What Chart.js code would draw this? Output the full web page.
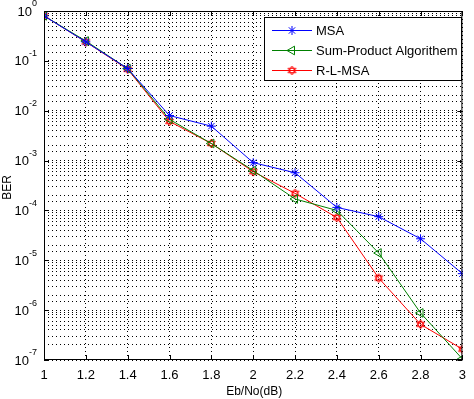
<!DOCTYPE html>
<html>
<head>
<meta charset="utf-8">
<script src="https://cdn.jsdelivr.net/npm/chart.js@4.4.1/dist/chart.umd.min.js"></script>
<style>
    html, body { margin: 0; padding: 0; background: #fff; }
    #wrap { width: 474px; height: 399px; }
</style>
</head>
<body>
<div id="wrap"><canvas id="berChart" width="474" height="399"></canvas></div>
<script>
// Data
const ebno = [1, 1.2, 1.4, 1.6, 1.8, 2.0, 2.2, 2.4, 2.6, 2.8, 3.0];
const msa = [0.8, 0.24, 0.07, 0.0080, 0.0049, 9.1e-4, 5.7e-4, 1.15e-4, 7.5e-5, 2.7e-5, 5.4e-6];
const sumProduct = [0.8, 0.25, 0.07, 0.0067, 0.0022, 6.3e-4, 1.7e-4, 1.0e-4, 1.4e-5, 8.8e-7, 1.05e-7];
const rlMsa = [0.8, 0.24, 0.068, 0.0061, 0.0022, 6.0e-4, 2.2e-4, 7.2e-5, 4.4e-6, 5.2e-7, 1.65e-7];
const seriesNames = ['MSA', 'Sum-Product Algorithem', 'R-L-MSA'];
const yDecades = [0, -1, -2, -3, -4, -5, -6, -7];
const xTicks = [1, 1.2, 1.4, 1.6, 1.8, 2, 2.2, 2.4, 2.6, 2.8, 3];

const FONT = '"Liberation Sans", Arial, Helvetica, sans-serif';

// hexagram marker for R-L-MSA
function hexagram(color) {
    const c = document.createElement('canvas');
    c.width = 11; c.height = 11;
    const g = c.getContext('2d');
    g.strokeStyle = color;
    g.lineWidth = 1;
    const r = 4.5, cx = 5.5, cy = 5.5;
    [ -Math.PI / 2, Math.PI / 2 ].forEach(a0 => {
        g.beginPath();
        for (let i = 0; i < 3; i++) {
            const a = a0 + i * 2 * Math.PI / 3;
            const px = cx + r * Math.cos(a), py = cy + r * Math.sin(a);
            if (i === 0) g.moveTo(px, py); else g.lineTo(px, py);
        }
        g.closePath();
        g.stroke();
    });
    return c;
}

function toPoints(arr) {
    return ebno.map((x, i) => ({ x: x, y: arr[i] }));
}

// box, inward tick marks, y labels with exponents, axis titles, legend
const matlabAxes = {
    id: 'matlabAxes',
    afterDraw(chart) {
        const ctx = chart.ctx;
        const a = chart.chartArea;
        const xs = chart.scales.x, ys = chart.scales.y;
        ctx.save();
        ctx.strokeStyle = '#000';
        ctx.lineWidth = 1;
        ctx.strokeRect(a.left + 0.5, a.top + 0.5, a.right - a.left - 1, a.bottom - a.top - 1);

        // tick marks
        ctx.beginPath();
        xTicks.forEach(v => {
            const px = Math.round(xs.getPixelForValue(v)) + 0.5;
            ctx.moveTo(px, a.bottom); ctx.lineTo(px, a.bottom - 5);
            ctx.moveTo(px, a.top); ctx.lineTo(px, a.top + 5);
        });
        yDecades.forEach(e => {
            const py = Math.round(ys.getPixelForValue(Math.pow(10, e))) + 0.5;
            ctx.moveTo(a.left, py); ctx.lineTo(a.left + 5, py);
            ctx.moveTo(a.right, py); ctx.lineTo(a.right - 5, py);
        });
        ctx.stroke();

        // y tick labels 10^n
        ctx.fillStyle = '#000';
        ctx.textBaseline = 'middle';
        ctx.textAlign = 'right';
        yDecades.forEach(e => {
            const py = ys.getPixelForValue(Math.pow(10, e));
            const expTxt = String(e);
            ctx.font = '9px ' + FONT;
            const ew = ctx.measureText(expTxt).width;
            const right = a.left - 7;
            ctx.fillText(expTxt, right, py - 7);
            ctx.font = '13px ' + FONT;
            ctx.fillText('10', right - ew, py + 1);
        });

        // axis titles
        ctx.font = '12px ' + FONT;
        ctx.textAlign = 'center';
        ctx.fillText('Eb/No(dB)', (a.left + a.right) / 2 + 1, 392);
        ctx.save();
        ctx.translate(8, (a.top + a.bottom) / 2 + 2);
        ctx.rotate(-Math.PI / 2);
        ctx.fillText('BER', 0, 0);
        ctx.restore();

        // legend
        const lx = 264, ly = 17, lw = 197, lh = 63;
        ctx.fillStyle = '#fff';
        ctx.fillRect(lx, ly, lw, lh);
        ctx.strokeStyle = '#000';
        ctx.strokeRect(lx + 0.5, ly + 0.5, lw, lh);
        chart.data.datasets.forEach((ds, i) => {
            const yy = ly + 13 + i * 20;
            ctx.strokeStyle = ds.borderColor;
            ctx.lineWidth = 1;
            ctx.beginPath();
            ctx.moveTo(lx + 8, yy + 0.5);
            ctx.lineTo(lx + 48, yy + 0.5);
            ctx.stroke();
            const ps = ds.pointStyle;
            if (ps instanceof HTMLCanvasElement) {
                ctx.drawImage(ps, lx + 28 - ps.width / 2, yy - ps.height / 2 + 0.5);
            } else {
                ctx.fillStyle = 'rgba(0,0,0,0)';
                Chart.helpers.drawPoint(ctx, {
                    pointStyle: ps, radius: ds.pointRadius, rotation: ds.pointRotation || 0,
                    borderWidth: 1
                }, lx + 28, yy + 0.5);
            }
            ctx.fillStyle = '#000';
            ctx.font = '13px ' + FONT;
            ctx.textAlign = 'left';
            ctx.textBaseline = 'middle';
            ctx.fillText(ds.label, lx + 52, yy + 1);
        });
        ctx.restore();
    }
};

const bgPlugin = {
    id: 'bg',
    beforeDraw(chart) {
        const ctx = chart.ctx;
        ctx.save();
        ctx.fillStyle = '#fff';
        ctx.fillRect(0, 0, chart.width, chart.height);
        ctx.restore();
    }
};

const gridStyle = {
    color: '#000',
    lineWidth: 1,
    drawTicks: false
};
const borderStyle = { display: false, dash: [1, 3] };

new Chart(document.getElementById('berChart'), {
    type: 'line',
    data: {
        datasets: [
            {
                label: seriesNames[0],
                data: toPoints(msa),
                borderColor: '#0000ff',
                pointStyle: 'star',
                pointRadius: 4.5,
                pointBorderColor: '#0000ff'
            },
            {
                label: seriesNames[1],
                data: toPoints(sumProduct),
                borderColor: '#008000',
                pointStyle: 'triangle',
                pointRotation: -90,
                pointRadius: 5,
                pointBorderColor: '#008000',
                pointBackgroundColor: 'rgba(255,255,255,0)'
            },
            {
                label: seriesNames[2],
                data: toPoints(rlMsa),
                borderColor: '#ff0000',
                pointStyle: hexagram('#ff0000'),
                pointRadius: 5,
                pointBorderColor: '#ff0000'
            }
        ]
    },
    options: {
        responsive: false,
        animation: false,
        layout: { padding: { top: 11, right: 5, left: 0, bottom: 0 } },
        elements: {
            line: { borderWidth: 1, tension: 0, fill: false },
            point: { borderWidth: 1, hoverRadius: 5 }
        },
        plugins: {
            legend: { display: false },
            tooltip: { enabled: false }
        },
        scales: {
            x: {
                type: 'linear',
                min: 1,
                max: 3,
                afterBuildTicks: (scale) => {
                    scale.ticks = xTicks.map(v => ({ value: v }));
                },
                ticks: {
                    color: '#000',
                    font: { family: FONT, size: 13 },
                    padding: 8,
                    maxRotation: 0,
                    autoSkip: false,
                    callback: (v) => String(Math.round(v * 10) / 10)
                },
                grid: gridStyle,
                border: borderStyle,
                afterFit: (scale) => { scale.height = 39; }
            },
            y: {
                type: 'logarithmic',
                min: 1e-7,
                max: 1,
                ticks: { display: false, autoSkip: false },
                grid: gridStyle,
                border: borderStyle,
                afterFit: (scale) => { scale.width = 44; }
            }
        }
    },
    plugins: [bgPlugin, matlabAxes]
});
</script>
</body>
</html>
